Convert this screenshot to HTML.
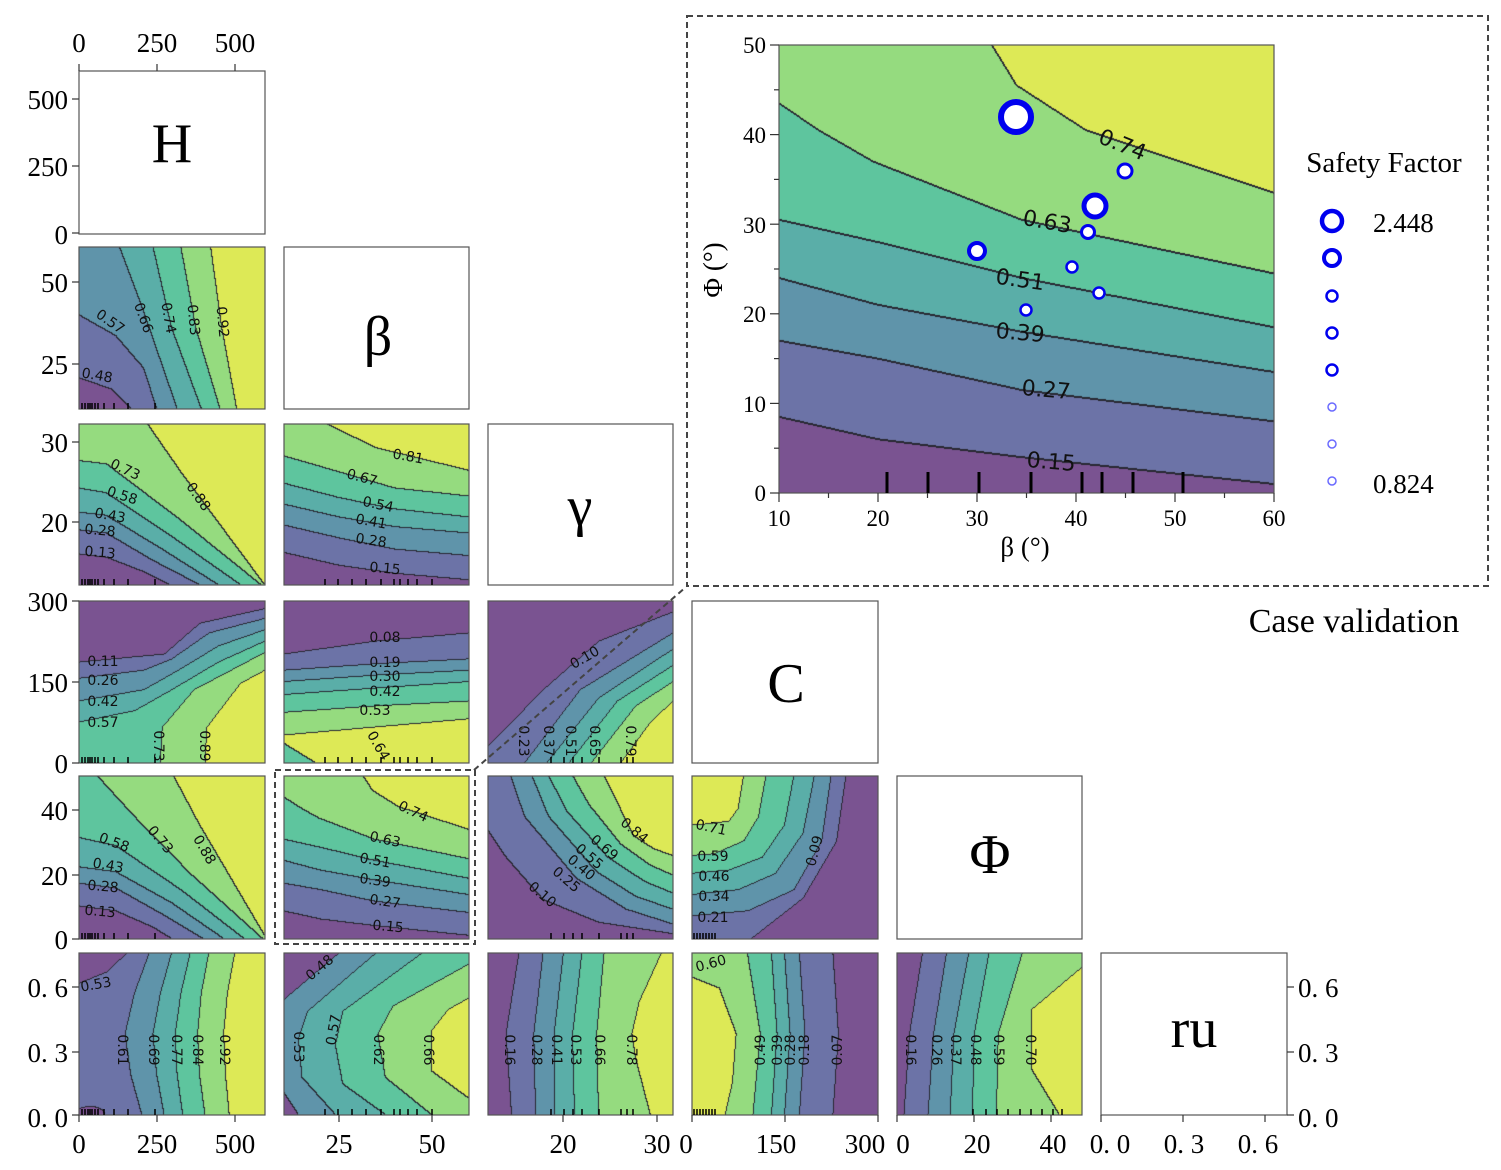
<!DOCTYPE html>
<html><head><meta charset="utf-8">
<style>
html,body{margin:0;padding:0;background:#fff;}
#wrap{position:relative;width:1501px;height:1170px;overflow:hidden;}
canvas,svg{position:absolute;left:0;top:0;}
</style></head>
<body><div id="wrap">
<canvas id="cv" width="1501" height="1170"></canvas>
<svg width="1501" height="1170" xmlns="http://www.w3.org/2000/svg" font-family="Liberation Serif, serif">
<g id="frames" fill="none" stroke="#555" stroke-width="1.2">
<rect x="79" y="71" width="186" height="163"/>
<rect x="284" y="247" width="185" height="162"/>
<rect x="488" y="424" width="185" height="161"/>
<rect x="692" y="601" width="186" height="162"/>
<rect x="897" y="776" width="185" height="163"/>
<rect x="1101" y="953" width="186" height="162"/>
<rect x="79" y="247" width="186" height="162"/>
<rect x="79" y="424" width="186" height="161"/><rect x="284" y="424" width="185" height="161"/>
<rect x="79" y="601" width="186" height="162"/><rect x="284" y="601" width="185" height="162"/><rect x="488" y="601" width="185" height="162"/>
<rect x="79" y="776" width="186" height="163"/><rect x="284" y="776" width="185" height="163"/><rect x="488" y="776" width="185" height="163"/><rect x="692" y="776" width="186" height="163"/>
<rect x="79" y="953" width="186" height="162"/><rect x="284" y="953" width="185" height="162"/><rect x="488" y="953" width="185" height="162"/><rect x="692" y="953" width="186" height="162"/><rect x="897" y="953" width="185" height="162"/>
<rect x="779" y="45" width="495" height="448"/>
</g>
<g font-size="56" text-anchor="middle" fill="#000">
<text x="172" y="162">H</text>
<text x="378" y="355">β</text>
<text x="580" y="525">γ</text>
<text x="786" y="702">C</text>
<text x="990" y="873">Φ</text>
<text x="1194" y="1047">ru</text>
</g>
<g stroke="#333" stroke-width="1.2">
<line x1="79" y1="71" x2="79" y2="64"/><line x1="157" y1="71" x2="157" y2="64"/><line x1="235" y1="71" x2="235" y2="64"/>
<line x1="79" y1="1115" x2="79" y2="1122"/><line x1="157" y1="1115" x2="157" y2="1122"/><line x1="235" y1="1115" x2="235" y2="1122"/>
<line x1="339" y1="1115" x2="339" y2="1122"/><line x1="432" y1="1115" x2="432" y2="1122"/>
<line x1="563" y1="1115" x2="563" y2="1122"/><line x1="657" y1="1115" x2="657" y2="1122"/>
<line x1="692" y1="1115" x2="692" y2="1122"/><line x1="785" y1="1115" x2="785" y2="1122"/><line x1="878" y1="1115" x2="878" y2="1122"/>
<line x1="897" y1="1115" x2="897" y2="1122"/><line x1="974" y1="1115" x2="974" y2="1122"/><line x1="1051" y1="1115" x2="1051" y2="1122"/>
<line x1="1101" y1="1115" x2="1101" y2="1122"/><line x1="1183" y1="1115" x2="1183" y2="1122"/><line x1="1265" y1="1115" x2="1265" y2="1122"/>
<line x1="1287" y1="987" x2="1294" y2="987"/><line x1="1287" y1="1052" x2="1294" y2="1052"/><line x1="1287" y1="1115" x2="1294" y2="1115"/>
<line x1="79" y1="99" x2="72" y2="99"/><line x1="79" y1="166" x2="72" y2="166"/><line x1="79" y1="233" x2="72" y2="233"/>
<line x1="79" y1="282" x2="72" y2="282"/><line x1="79" y1="364" x2="72" y2="364"/>
<line x1="79" y1="442" x2="72" y2="442"/><line x1="79" y1="522" x2="72" y2="522"/>
<line x1="79" y1="601" x2="72" y2="601"/><line x1="79" y1="682" x2="72" y2="682"/><line x1="79" y1="763" x2="72" y2="763"/>
<line x1="79" y1="810" x2="72" y2="810"/><line x1="79" y1="875" x2="72" y2="875"/><line x1="79" y1="939" x2="72" y2="939"/>
<line x1="79" y1="987" x2="72" y2="987"/><line x1="79" y1="1052" x2="72" y2="1052"/><line x1="79" y1="1115" x2="72" y2="1115"/>
</g>
<g font-size="27" fill="#000" text-anchor="middle">
<text x="79" y="52">0</text><text x="157" y="52">250</text><text x="235" y="52">500</text>
<text x="79" y="1153">0</text><text x="157" y="1153">250</text><text x="235" y="1153">500</text>
<text x="339" y="1153">25</text><text x="432" y="1153">50</text>
<text x="563" y="1153">20</text><text x="657" y="1153">30</text>
<text x="686" y="1153">0</text><text x="776" y="1153">150</text><text x="865" y="1153">300</text>
<text x="903" y="1153">0</text><text x="977" y="1153">20</text><text x="1053" y="1153">40</text>
<text x="1110" y="1153">0. 0</text><text x="1184" y="1153">0. 3</text><text x="1258" y="1153">0. 6</text>
</g>
<g font-size="27" fill="#000" text-anchor="end">
<text x="68" y="109">500</text><text x="68" y="176">250</text><text x="68" y="244">0</text>
<text x="68" y="292">50</text><text x="68" y="374">25</text>
<text x="68" y="452">30</text><text x="68" y="532">20</text>
<text x="68" y="611">300</text><text x="68" y="692">150</text><text x="68" y="773">0</text>
<text x="68" y="820">40</text><text x="68" y="885">20</text><text x="68" y="949">0</text>
<text x="68" y="997">0. 6</text><text x="68" y="1062">0. 3</text><text x="68" y="1127">0. 0</text>
</g>
<g font-size="27" fill="#000">
<text x="1298" y="997">0. 6</text><text x="1298" y="1062">0. 3</text><text x="1298" y="1127">0. 0</text>
</g>
<g font-family="DejaVu Sans, sans-serif" font-size="14" fill="#111" text-anchor="middle" dominant-baseline="middle">
<text transform="translate(110,322) rotate(35)">0.57</text>
<text transform="translate(97,376) rotate(10)">0.48</text>
<text transform="translate(143,318) rotate(70)">0.66</text>
<text transform="translate(168,318) rotate(80)">0.74</text>
<text transform="translate(193,320) rotate(85)">0.83</text>
<text transform="translate(222,322) rotate(85)">0.92</text>

<text transform="translate(125,470) rotate(25)">0.73</text>
<text transform="translate(122,496) rotate(18)">0.58</text>
<text transform="translate(110,516) rotate(10)">0.43</text>
<text transform="translate(100,531) rotate(5)">0.28</text>
<text transform="translate(100,553) rotate(5)">0.13</text>
<text transform="translate(198,497) rotate(55)">0.88</text>

<text transform="translate(408,457) rotate(10)">0.81</text>
<text transform="translate(362,478) rotate(15)">0.67</text>
<text transform="translate(378,505) rotate(12)">0.54</text>
<text transform="translate(371,522) rotate(10)">0.41</text>
<text transform="translate(371,541) rotate(8)">0.28</text>
<text transform="translate(385,569) rotate(5)">0.15</text>

<text x="103" y="662">0.11</text><text x="103" y="681">0.26</text><text x="103" y="702">0.42</text><text x="103" y="723">0.57</text>
<text transform="translate(158,746) rotate(90)">0.73</text>
<text transform="translate(204,746) rotate(90)">0.89</text>

<text x="385" y="638">0.08</text><text x="385" y="663">0.19</text><text x="385" y="677">0.30</text><text x="385" y="692">0.42</text><text x="375" y="711">0.53</text>
<text transform="translate(378,746) rotate(60)">0.64</text>

<text transform="translate(585,658) rotate(-30)">0.10</text>
<text transform="translate(523,741) rotate(90)">0.23</text>
<text transform="translate(548,741) rotate(90)">0.37</text>
<text transform="translate(570,741) rotate(90)">0.51</text>
<text transform="translate(594,741) rotate(90)">0.65</text>
<text transform="translate(630,741) rotate(90)">0.79</text>

<text transform="translate(114,843) rotate(20)">0.58</text>
<text transform="translate(160,840) rotate(50)">0.73</text>
<text transform="translate(204,850) rotate(60)">0.88</text>
<text transform="translate(108,866) rotate(10)">0.43</text>
<text transform="translate(103,887) rotate(5)">0.28</text>
<text transform="translate(100,912) rotate(5)">0.13</text>

<text transform="translate(413,812) rotate(25)">0.74</text>
<text transform="translate(385,840) rotate(12)">0.63</text>
<text transform="translate(375,861) rotate(10)">0.51</text>
<text transform="translate(375,881) rotate(8)">0.39</text>
<text transform="translate(385,902) rotate(8)">0.27</text>
<text transform="translate(388,927) rotate(5)">0.15</text>

<text transform="translate(634,831) rotate(40)">0.84</text>
<text transform="translate(604,848) rotate(40)">0.69</text>
<text transform="translate(589,857) rotate(40)">0.55</text>
<text transform="translate(581,868) rotate(40)">0.40</text>
<text transform="translate(566,880) rotate(40)">0.25</text>
<text transform="translate(542,895) rotate(40)">0.10</text>

<text transform="translate(711,828) rotate(12)">0.71</text>
<text x="713" y="857">0.59</text><text x="714" y="877">0.46</text><text x="714" y="897">0.34</text><text x="713" y="918">0.21</text>
<text transform="translate(815,851) rotate(-75)">0.09</text>

<text transform="translate(96,985) rotate(-10)">0.53</text>
<text transform="translate(122,1050) rotate(90)">0.61</text>
<text transform="translate(153,1050) rotate(90)">0.69</text>
<text transform="translate(176,1050) rotate(90)">0.77</text>
<text transform="translate(197,1050) rotate(90)">0.84</text>
<text transform="translate(224,1050) rotate(90)">0.92</text>

<text transform="translate(320,968) rotate(-40)">0.48</text>
<text transform="translate(298,1047) rotate(90)">0.53</text>
<text transform="translate(334,1030) rotate(-80)">0.57</text>
<text transform="translate(378,1050) rotate(90)">0.62</text>
<text transform="translate(428,1050) rotate(90)">0.66</text>

<text transform="translate(509,1050) rotate(90)">0.16</text>
<text transform="translate(536,1050) rotate(90)">0.28</text>
<text transform="translate(556,1050) rotate(90)">0.41</text>
<text transform="translate(575,1050) rotate(90)">0.53</text>
<text transform="translate(599,1050) rotate(90)">0.66</text>
<text transform="translate(631,1050) rotate(90)">0.78</text>

<text transform="translate(711,964) rotate(-15)">0.60</text>
<text transform="translate(761,1050) rotate(-90)">0.49</text>
<text transform="translate(778,1050) rotate(-90)">0.39</text>
<text transform="translate(791,1050) rotate(-90)">0.28</text>
<text transform="translate(805,1050) rotate(-90)">0.18</text>
<text transform="translate(838,1050) rotate(-90)">0.07</text>

<text transform="translate(910,1050) rotate(90)">0.16</text>
<text transform="translate(936,1050) rotate(90)">0.26</text>
<text transform="translate(955,1050) rotate(90)">0.37</text>
<text transform="translate(975,1050) rotate(90)">0.48</text>
<text transform="translate(998,1050) rotate(90)">0.59</text>
<text transform="translate(1030,1050) rotate(90)">0.70</text>
</g>
<g font-family="DejaVu Sans, sans-serif" font-size="22" fill="#111" text-anchor="middle" dominant-baseline="middle">
<text transform="translate(1122,146) rotate(22)">0.74</text>
<text transform="translate(1047,223) rotate(10)">0.63</text>
<text transform="translate(1020,281) rotate(8)">0.51</text>
<text transform="translate(1020,334) rotate(5)">0.39</text>
<text transform="translate(1046,391) rotate(5)">0.27</text>
<text transform="translate(1051,463) rotate(5)">0.15</text>
</g>
<g stroke="#333" stroke-width="1.2" id="mticks"></g>
<g font-size="23" fill="#000" text-anchor="end">
<text x="766" y="53">50</text><text x="766" y="143">40</text><text x="766" y="233">30</text><text x="766" y="322">20</text><text x="766" y="412">10</text><text x="766" y="501">0</text>
</g>
<g font-size="23" fill="#000" text-anchor="middle">
<text x="779" y="526">10</text><text x="878" y="526">20</text><text x="977" y="526">30</text><text x="1076" y="526">40</text><text x="1175" y="526">50</text><text x="1274" y="526">60</text>
<text x="1025" y="556" font-size="27">β (°)</text>
<text transform="translate(722,270) rotate(-90)" font-size="27">Φ (°)</text>
<text x="1384" y="172" font-size="29">Safety Factor</text>
<text x="1354" y="632" font-size="34">Case validation</text>
</g>
<g font-size="27" fill="#000">
<text x="1373" y="232">2.448</text><text x="1373" y="493">0.824</text>
</g>
<g fill="#fff" stroke="#0000ee">
<circle cx="1016" cy="117" r="15" stroke-width="6"/>
<circle cx="1095" cy="206" r="11" stroke-width="5"/>
<circle cx="977" cy="251" r="8" stroke-width="4"/>
<circle cx="1125" cy="171" r="7" stroke-width="3"/>
<circle cx="1088" cy="232" r="6.5" stroke-width="3"/>
<circle cx="1072" cy="267" r="5.5" stroke-width="2.5"/>
<circle cx="1099" cy="293" r="5.5" stroke-width="2.5"/>
<circle cx="1026" cy="310" r="5.5" stroke-width="2.5"/>
</g>
<g fill="#fff" stroke="#0000ee">
<circle cx="1332" cy="221" r="10" stroke-width="4.5"/>
<circle cx="1332" cy="258" r="8" stroke-width="4"/>
<circle cx="1332" cy="296" r="5.5" stroke-width="2.5"/>
<circle cx="1332" cy="333" r="5.5" stroke-width="2.5"/>
<circle cx="1332" cy="370" r="5.5" stroke-width="2.5"/>
<circle cx="1332" cy="407" r="4" stroke-width="1.5" stroke="#6a6aff"/>
<circle cx="1332" cy="444" r="4" stroke-width="1.5" stroke="#6a6aff"/>
<circle cx="1332" cy="481" r="4" stroke-width="1.5" stroke="#6a6aff"/>
</g>
<g fill="none" stroke="#444" stroke-width="2" stroke-dasharray="6,4">
<rect x="687" y="16" width="801" height="570"/>
<rect x="275" y="770" width="200" height="174"/>
<line x1="474" y1="770" x2="686" y2="587"/>
</g>
<g id="rugs" stroke="#000" stroke-width="2"></g>
</svg>
</div>
<script>
(function(){
var hex=['#7a5391','#6c73a7','#5f94aa','#5aaea8','#5ec59e','#95db7f','#dde956'];
var col=hex.map(function(h){return [parseInt(h.substr(1,2),16),parseInt(h.substr(3,2),16),parseInt(h.substr(5,2),16)];});
function ip(p,x){ if(x<=p[0][0])return p[0][1]; for(var i=1;i<p.length;i++){ if(x<=p[i][0]){var a=p[i-1],b=p[i];return a[1]+(b[1]-a[1])*(x-a[0])/(b[0]-a[0]);} } return p[p.length-1][1]; }
function H(hi,pts){pts=pts.slice().sort(function(a,b){return a[0]-b[0];});return function(u,v){var y=ip(pts,u);return hi=='a'?v>y:v<y;};}
function V(hi,pts){var q=pts.map(function(p){return [p[1],p[0]];}).sort(function(a,b){return a[0]-b[0];});return function(u,v){var x=ip(q,v);return hi=='r'?u>x:u<x;};}
function cnt(L){return function(u,v){var n=0;for(var i=0;i<L.length;i++)if(L[i](u,v))n++;return Math.min(6,n);};}
var P=[];
function add(x0,y0,x1,y1,f){P.push([x0,y0,x1,y1,f]);}
var cx=[[79,265],[284,469],[488,673],[692,878],[897,1082]];
var ry={1:[247,409],2:[424,585],3:[601,763],4:[776,939],5:[953,1115]};
function pan(r,c,f){add(cx[c][0],ry[r][0],cx[c][1],ry[r][1],f);}
pan(1,0,cnt([
 V('r',[[-1,.2],[0,.19],[.18,.12],[.28,0],[.3,-.1]]),
 V('r',[[-1,.6],[0,.58],[.2,.45],[.35,.25],[.42,0],[.43,-.1]]),
 V('r',[[.22,1],[.35,.6],[.53,0]]),
 V('r',[[.4,1],[.5,.5],[.66,0]]),
 V('r',[[.55,1],[.63,.5],[.76,0]]),
 V('r',[[.71,1],[.77,.5],[.85,0]])]));
pan(2,0,cnt([
 H('a',[[0,.19],[.15,.17],[.35,.08],[.49,0],[.6,-.1]]),
 H('a',[[0,.34],[.15,.32],[.4,.15],[.65,0],[.75,-.1]]),
 H('a',[[0,.45],[.15,.43],[.45,.22],[.75,0],[.85,-.1]]),
 H('a',[[0,.6],[.15,.57],[.5,.3],[.87,0],[.95,-.1]]),
 H('a',[[0,.77],[.15,.75],[.55,.4],[.98,0],[1.05,-.1]]),
 H('a',[[.2,1.4],[.37,1],[.55,.7],[1,0],[1.1,-.2]])]));
pan(2,1,cnt([
 H('a',[[0,.2],[.3,.12],[.6,.07],[1,.03]]),
 H('a',[[0,.37],[.3,.29],[.6,.22],[1,.18]]),
 H('a',[[0,.5],[.3,.42],[.6,.36],[1,.32]]),
 H('a',[[0,.63],[.3,.54],[.6,.47],[1,.42]]),
 H('a',[[0,.8],[.3,.7],[.6,.6],[1,.55]]),
 H('a',[[.1,1.05],[.23,1],[.5,.85],[1,.71]])]));
pan(3,0,cnt([
 H('b',[[0,.62],[.46,.67],[.65,.86],[1,.95]]),
 H('b',[[0,.52],[.35,.57],[.5,.64],[.7,.8],[1,.89]]),
 H('b',[[0,.38],[.35,.45],[.55,.58],[.75,.72],[1,.82]]),
 H('b',[[0,.25],[.3,.32],[.5,.45],[.75,.62],[1,.75]]),
 V('r',[[.44,-.1],[.44,0],[.45,.22],[.62,.45],[1,.68],[1.3,.8]]),
 V('r',[[.68,-.1],[.68,0],[.69,.22],[.87,.49],[1,.57],[1.3,.7]])]));
(function(){var b=cnt([
 H('b',[[0,.67],[.5,.75],[1,.8]]),
 H('b',[[0,.57],[.5,.61],[1,.64]]),
 H('b',[[0,.5],[.5,.54],[1,.57]]),
 H('b',[[0,.42],[.5,.46],[1,.5]]),
 H('b',[[0,.31],[.5,.35],[1,.38]]),
 H('b',[[0,.17],[.3,.2],[.6,.23],[1,.27]])]);
 var lo=[[0,.12],[.1,.05],[.2,-.02],[1,-.2]];
 pan(3,1,function(u,v){var n=b(u,v);if(v<ip(lo,u))n=4;return n;});})();
pan(3,2,cnt([
 H('b',[[-.1,-.1],[0,.1],[.3,.45],[.6,.75],[1,.93]]),
 H('b',[[.1,-.2],[.2,0],[.5,.45],[1,.8]]),
 H('b',[[.22,-.2],[.32,0],[.6,.4],[1,.7]]),
 H('b',[[.34,-.2],[.44,0],[.7,.38],[1,.6]]),
 H('b',[[.46,-.2],[.56,0],[.8,.35],[1,.5]]),
 H('b',[[.62,-.2],[.72,0],[.88,.25],[1,.38]])]));
pan(4,0,cnt([
 H('a',[[0,.2],[.2,.17],[.4,.07],[.5,0],[.6,-.1]]),
 H('a',[[0,.34],[.2,.31],[.45,.15],[.67,0],[.75,-.1]]),
 H('a',[[0,.44],[.2,.41],[.5,.22],[.78,0],[.85,-.1]]),
 H('a',[[0,.62],[.2,.57],[.55,.3],[.89,0],[.95,-.1]]),
 H('a',[[-.1,1.2],[.1,1],[.3,.75],[.6,.4],[.99,0],[1.1,-.1]]),
 H('a',[[.4,1.2],[.51,1],[.65,.7],[1,.02],[1.1,-.1]])]));
var ML=[
 H('a',[[0,.17],[.2,.12],[.49,.08],[1,.02]]),
 H('a',[[0,.34],[.2,.3],[.49,.23],[1,.16]]),
 H('a',[[0,.48],[.2,.42],[.49,.36],[1,.27]]),
 H('a',[[0,.61],[.2,.56],[.49,.48],[1,.37]]),
 H('a',[[0,.87],[.08,.81],[.19,.74],[.49,.61],[1,.49]]),
 H('a',[[.3,1.2],[.43,1],[.48,.91],[.62,.81],[1,.67]])];
pan(4,1,cnt(ML));
add(779,45,1274,493,cnt(ML));
pan(4,2,cnt([
 H('a',[[0,.67],[.1,.5],[.3,.24],[.6,.1],[1,.03]]),
 H('a',[[.05,1.1],[.125,1],[.2,.75],[.48,.37],[.75,.18],[1,.09]]),
 H('a',[[.15,1.1],[.24,1],[.33,.75],[.59,.41],[.8,.26],[1,.18]]),
 H('a',[[.25,1.1],[.33,1],[.43,.78],[.65,.5],[.85,.35],[1,.28]]),
 H('a',[[.38,1.1],[.46,1],[.55,.82],[.72,.58],[.88,.45],[1,.39]]),
 H('a',[[.55,1.1],[.63,1],[.79,.63],[.9,.55],[1,.51]])]));
pan(4,3,cnt([
 V('l',[[.83,1],[.78,.6],[.6,.25],[.32,0],[.2,-.2]]),
 V('l',[[.75,1],[.7,.6],[.55,.3],[.3,.17],[0,.14],[-.2,.12]]),
 V('l',[[.66,1],[.6,.65],[.45,.4],[.25,.3],[0,.27],[-.2,.25]]),
 V('l',[[.55,1],[.5,.7],[.38,.5],[.2,.42],[0,.4],[-.2,.38]]),
 V('l',[[.4,1],[.36,.75],[.28,.6],[.12,.52],[0,.51],[-.2,.5]]),
 V('l',[[.28,1],[.25,.8],[.2,.72],[.05,.7],[-.2,.69]])]));
pan(5,0,(function(){var f=cnt([
 V('r',[[.38,1],[.3,.75],[.25,.5],[.28,.25],[.34,0]]),
 V('r',[[.5,1],[.44,.75],[.4,.5],[.42,.25],[.46,0]]),
 V('r',[[.6,1],[.55,.75],[.52,.5],[.53,.25],[.56,0]]),
 V('r',[[.7,1],[.66,.75],[.64,.5],[.65,.25],[.68,0]]),
 V('r',[[.84,1],[.8,.75],[.78,.5],[.79,.25],[.81,0]])]);
 var tl=V('l',[[.3,1.2],[.26,1],[.15,.88],[0,.81],[-.2,.78]]);
 return function(u,v){var n=f(u,v)+1; if(tl(u,v))n=0; if(Math.pow((u-.06)/.08,2)+Math.pow(v/.05,2)<1)n=0; return n;};})());
(function(){var l48=V('r',[[.32,1.1],[.3,1],[0,.71],[-.1,.5],[0,.14],[.08,0],[.1,-.1]]);
 pan(5,1,cnt([l48,l48,
 V('r',[[.52,1.1],[.5,1],[.13,.64],[.08,.47],[.1,.23],[.28,0],[.3,-.1]]),
 V('r',[[.77,1.1],[.75,1],[.32,.64],[.28,.43],[.32,.19],[.55,0],[.57,-.1]]),
 V('r',[[1.2,1.05],[1,.93],[.59,.67],[.51,.5],[.55,.23],[.8,0],[.82,-.1]]),
 V('r',[[1.2,.76],[1,.72],[.89,.65],[.8,.52],[.8,.27],[.99,.11],[1.2,.05]])]));})();
pan(5,2,cnt([
 V('r',[[.13,0],[.1,.5],[.17,1]]),
 V('r',[[.26,0],[.25,.5],[.3,1]]),
 V('r',[[.36,0],[.36,.5],[.41,1]]),
 V('r',[[.47,0],[.46,.5],[.51,1]]),
 V('r',[[.6,0],[.59,.5],[.63,1]]),
 V('r',[[.88,-.1],[.88,0],[.8,.35],[.78,.5],[.82,.7],[.94,1],[1,1.1]])]));
pan(5,3,cnt([
 V('l',[[.76,0],[.79,.5],[.76,1]]),
 V('l',[[.58,0],[.61,.5],[.58,1]]),
 V('l',[[.5,0],[.53,.5],[.5,1]]),
 V('l',[[.43,0],[.46,.5],[.43,1]]),
 V('l',[[.33,0],[.37,.5],[.3,1]]),
 V('l',[[.16,-.1],[.18,0],[.22,.2],[.24,.5],[.15,.78],[0,.85],[-.2,1.1]])]));
pan(5,4,cnt([
 V('r',[[.04,0],[.07,.5],[.14,1]]),
 V('r',[[.17,0],[.2,.5],[.27,1]]),
 V('r',[[.29,0],[.31,.5],[.39,1]]),
 V('r',[[.41,0],[.42,.5],[.5,1]]),
 V('r',[[.54,0],[.55,.5],[.68,1]]),
 V('r',[[.88,-.1],[.88,0],[.73,.28],[.73,.65],[1,.91],[1.2,1]])]));
var cv=document.getElementById('cv'),ctx=cv.getContext('2d');
var img=ctx.createImageData(1501,1170),d=img.data;
for(var k=0;k<d.length;k+=4){d[k]=d[k+1]=d[k+2]=d[k+3]=255;}
P.forEach(function(p){
 var x0=p[0],y0=p[1],w=p[2]-p[0],h=p[3]-p[1],f=p[4],big=w>300;
 var B=[],i,j;
 for(j=0;j<h;j++){B[j]=[];for(i=0;i<w;i++){B[j][i]=f((i+.5)/w,1-(j+.5)/h);}}
 for(j=0;j<h;j++){for(i=0;i<w;i++){
  var b=B[j][i],e=(i+1<w&&B[j][i+1]!=b)||(j+1<h&&B[j+1][i]!=b);
  if(big&&!e)e=(i>0&&B[j][i-1]!=b)||(j>0&&B[j-1][i]!=b);
  var c=e?[40,40,50]:col[b];var o=((y0+j)*1501+x0+i)*4;d[o]=c[0];d[o+1]=c[1];d[o+2]=c[2];
 }}
});
ctx.putImageData(img,0,0);
var ns='http://www.w3.org/2000/svg';
function ln(g,x1,y1,x2,y2,sw){var l=document.createElementNS(ns,'line');l.setAttribute('x1',x1);l.setAttribute('y1',y1);l.setAttribute('x2',x2);l.setAttribute('y2',y2);if(sw)l.setAttribute('stroke-width',sw);g.appendChild(l);}
var mt=document.getElementById('mticks');
for(var k=0;k<=10;k++){var x=779+49.5*k;ln(mt,x,493,x,k%2?498:502);}
for(var k=0;k<=10;k++){var y=45+44.8*k;ln(mt,779,y,k%2?774:770,y);}
var rg=document.getElementById('rugs');
[887,928,979,1031,1082,1102,1133,1183].forEach(function(x){ln(rg,x,472,x,493,3);});
var rows=[409,585,763,939,1115];
var rx=[[82,85,88,90,92,95,98,104,114,128,155],[325,338,352,366,381,394,400,408,417,432],[551,564,573,582,599,621,627,633],[694,697,700,703,706,709,712,715],[973,986,997,1008,1020,1031,1042,1053,1062]];
for(var r=0;r<5;r++){for(var c=0;c<=r;c++){if(r==3&&c==1)continue;rx[c].forEach(function(x){ln(rg,x,rows[r]-6,x,rows[r],1.5);});}}
})();
</script>
</body></html>
